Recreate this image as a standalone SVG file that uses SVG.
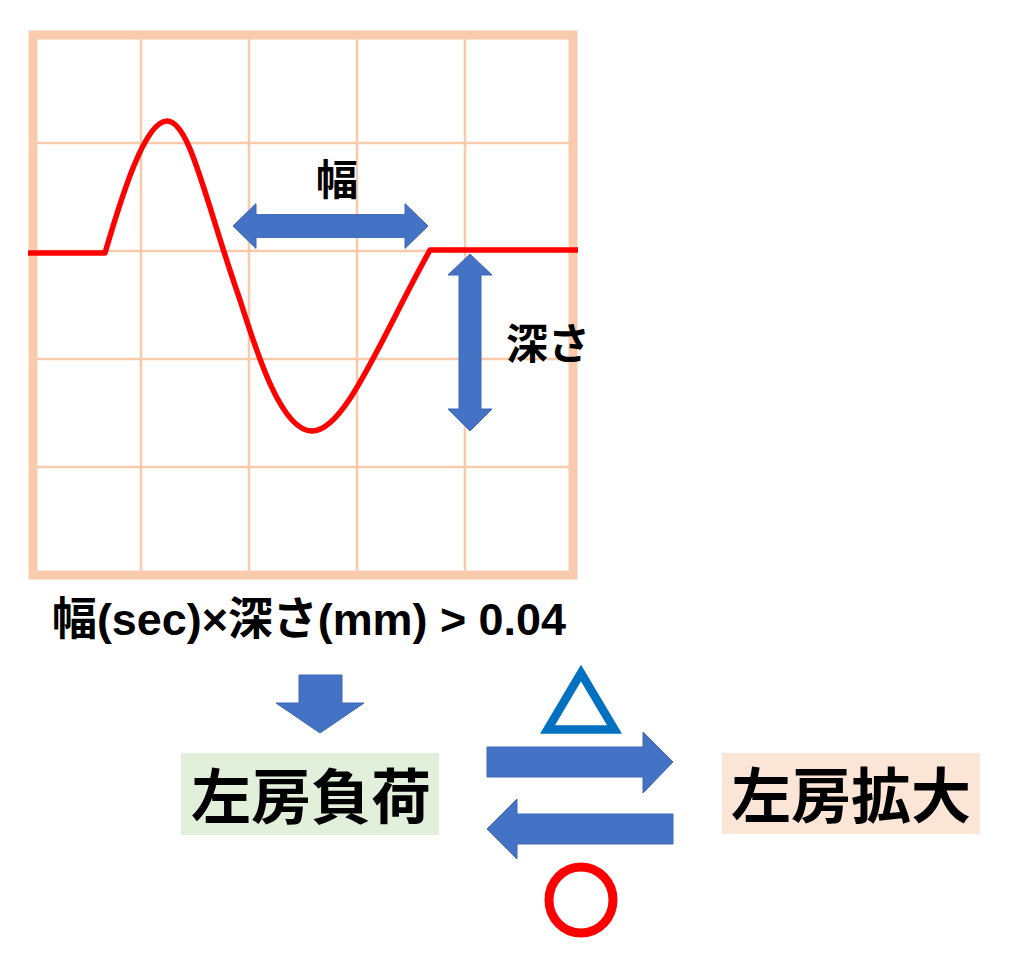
<svg xmlns="http://www.w3.org/2000/svg" width="1024" height="970" viewBox="0 0 1024 970">
  <style>
    .grid { stroke: #F8CBAD; stroke-width: 2.5; fill: none; }
    .frame { stroke: #F8CBAD; stroke-width: 9; fill: #FFFFFF; }
    .wave { stroke: #FF0000; stroke-width: 5.5; fill: none; stroke-linejoin: round; }
    .blk { fill: #4472C4; stroke: #3F68B5; stroke-width: 1; }
    .jp { font-family: "Noto Sans CJK JP", "Liberation Sans", sans-serif; font-weight: bold; fill: #000000; }
    .mix { font-family: "Liberation Sans", "Noto Sans CJK JP", sans-serif; font-weight: bold; fill: #000000; }
  </style>
  <rect x="0" y="0" width="1024" height="970" fill="#FFFFFF"/>

  <g id="chart">
    <rect class="frame" x="33" y="35" width="540" height="540"/>
    <g class="grid">
      <line x1="141" y1="39" x2="141" y2="571"/>
      <line x1="249" y1="39" x2="249" y2="571"/>
      <line x1="357" y1="39" x2="357" y2="571"/>
      <line x1="465" y1="39" x2="465" y2="571"/>
      <line x1="37" y1="143" x2="569" y2="143"/>
      <line x1="37" y1="251" x2="569" y2="251"/>
      <line x1="37" y1="359" x2="569" y2="359"/>
      <line x1="37" y1="467" x2="569" y2="467"/>
    </g>
    <path class="wave" d="M28,253 L105,253 C122,195 145,121 167,121 C190,121 205,200 240,300 C258,357 282,431 312,431 C345,431 380,340 430,250 L578,250"/>
  </g>

  <g id="width-arrow">
    <polygon class="blk" points="233,226 256,203.6 256,214.6 405,214.6 405,203.6 428,226 405,248.4 405,237.4 256,237.4 256,248.4"/>
    <text class="jp" x="337" y="195" font-size="42" text-anchor="middle">幅</text>
  </g>

  <g id="depth-arrow">
    <polygon class="blk" points="470,254 492,275 481,275 481,409 492,409 470,431 448,409 459,409 459,275 448,275"/>
    <text class="jp" x="548" y="359" font-size="42" text-anchor="middle">深さ</text>
  </g>

  <g id="formula">
    <text class="mix" x="52" y="635" font-size="45" textLength="514" lengthAdjust="spacingAndGlyphs">幅(sec)×深さ(mm) &gt; 0.04</text>
  </g>

  <g id="node-la-load">
    <rect x="181" y="753" width="258" height="82" fill="#E2EFDA"/>
    <text class="jp" x="311" y="819" font-size="60" text-anchor="middle">左房負荷</text>
  </g>

  <g id="node-la-enlarge">
    <rect x="722" y="753" width="258" height="81" fill="#FBE5D6"/>
    <text class="jp" x="851" y="818" font-size="60" text-anchor="middle">左房拡大</text>
  </g>

  <g id="connectors">
    <polygon class="blk" points="299,675 342,675 342,703 364,703 320,733 276,703 299,703"/>
    <polygon class="blk" points="487,747 643,747 643,732 673,762 643,793 643,777 487,777"/>
    <polygon class="blk" points="673,814 517,814 517,799 487,829 517,859 517,844 673,844"/>
  </g>

  <g id="mark-triangle">
    <polygon points="581,673 547.5,729.5 614.5,729.5" fill="none" stroke="#0070C0" stroke-width="8.5" stroke-linejoin="miter"/>
  </g>

  <g id="mark-circle">
    <ellipse cx="581" cy="900" rx="32" ry="33" fill="none" stroke="#FF0000" stroke-width="9"/>
  </g>
</svg>
